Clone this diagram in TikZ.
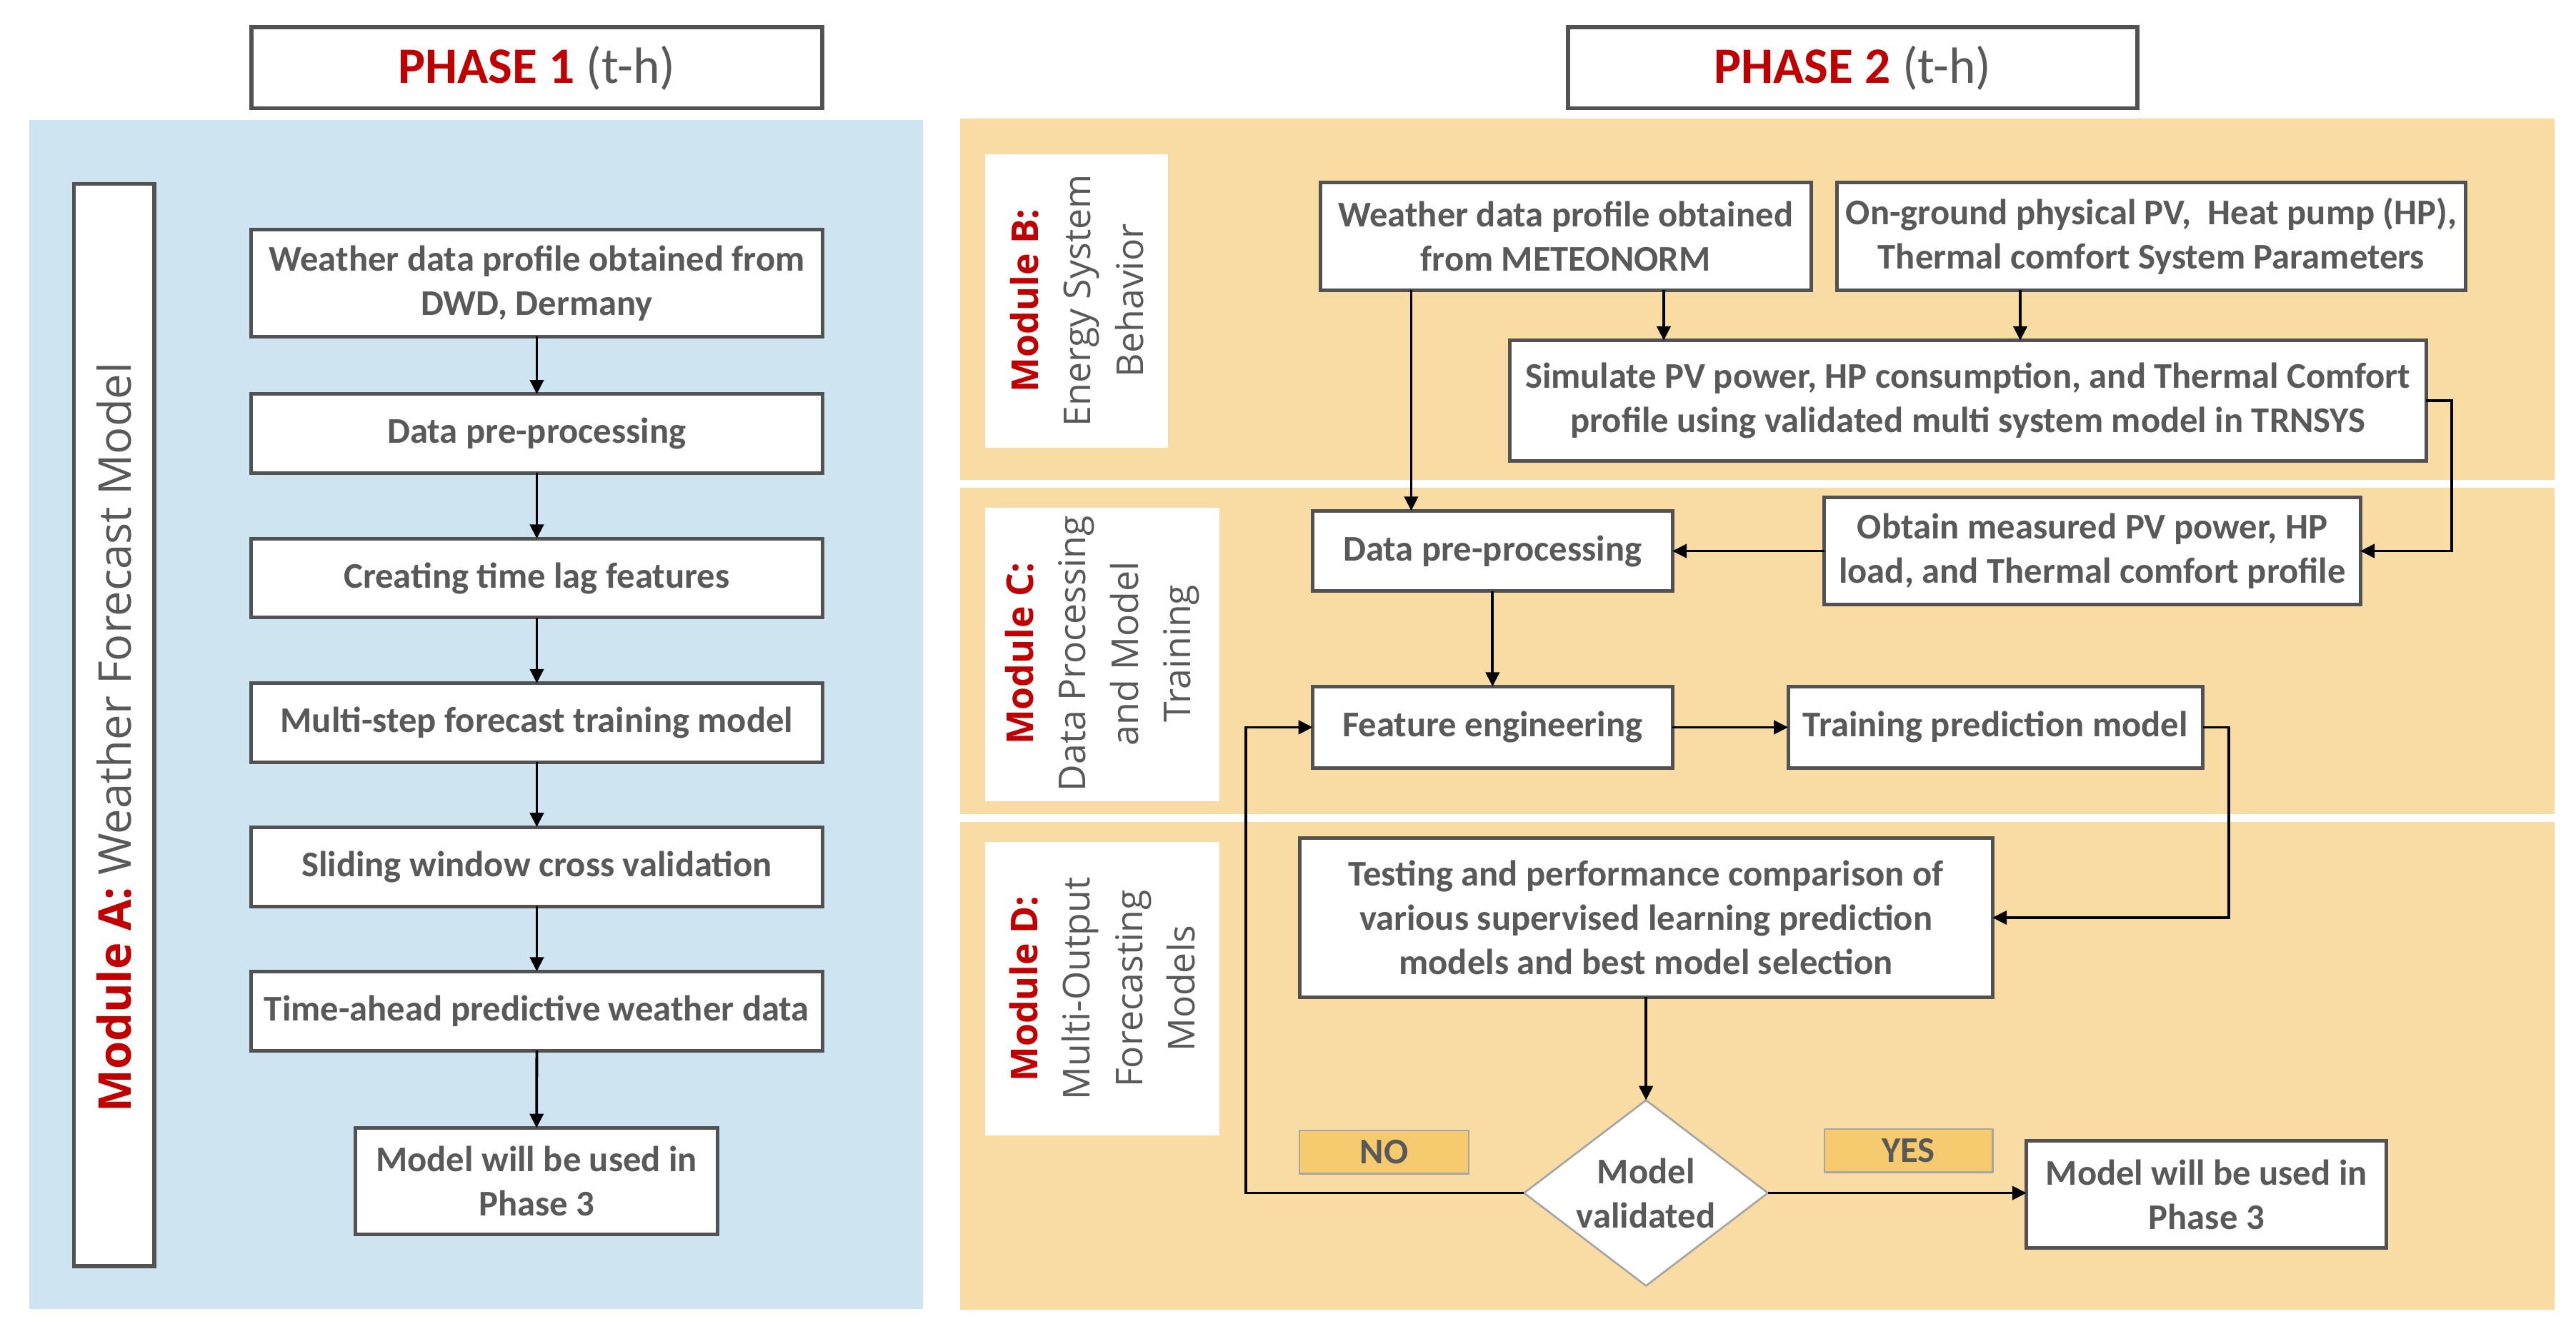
\documentclass[tikz,border=0pt]{standalone}
\usepackage{fontspec}
\setmainfont{Carlito}
\newfontfamily\osans{Open Sans}
\usetikzlibrary{arrows.meta,shapes.geometric}
\definecolor{tx}{HTML}{595959}
\definecolor{dred}{HTML}{C00000}
\definecolor{bluebg}{HTML}{CFE4F1}
\definecolor{tanbg}{HTML}{F9DCA3}
\definecolor{gold}{HTML}{F6CA6E}
\definecolor{bd}{HTML}{525252}
\definecolor{lg}{HTML}{A6A6A6}
\tikzset{
 box/.style={draw=bd, line width=0.65mm, fill=white, inner sep=0pt, outer sep=0pt, align=center, text=tx, font=\fontsize{18.8}{23}\selectfont\bfseries},
 phasebox/.style={draw=bd, line width=0.7mm, fill=white, inner sep=0pt, outer sep=0pt, text=tx, font=\fontsize{26.5}{30}\selectfont},
 modbox/.style={draw=bd, line width=0.7mm, fill=white, inner sep=0pt, outer sep=0pt},
 lab/.style={fill=white, draw=none, inner sep=0pt, outer sep=0pt},
 tag/.style={fill=gold, draw=lg, line width=0.35mm, inner sep=0pt, outer sep=0pt, text=tx, font=\fontsize{18.8}{23}\selectfont\bfseries},
 arr/.style={draw=black, line width=0.5mm, -{Triangle[length=2.6mm,width=2.5mm]}},
 modtext/.style={rotate=90, align=center, text=tx, font=\osans\fontsize{19.2}{27.3}\selectfont, inner sep=0pt},
}
\newcommand\bx[7][box]{\node[#1,minimum width={(#5-#3)*0.3mm},minimum height={(#6-#4)*0.3mm}] (#2) at ({(#3+#5)/2},{(#4+#6)/2}) {#7};}
\begin{document}
\begin{tikzpicture}[x=0.3mm,y=-0.3mm]
\useasboundingbox (0,0) rectangle (1568,809);
\fill[white] (0,0) rectangle (1568,809);
% panels
\fill[bluebg] (18,73) rectangle (562,797);
\fill[tanbg] (584.6,72.4) rectangle (1555,292);
\fill[tanbg] (584.6,297) rectangle (1555,495.5);
\fill[tanbg] (584.6,500.5) rectangle (1555,797.3);
% phase headers
\bx[phasebox]{ph1}{153}{16.5}{500.5}{66}{{\color{dred}\bfseries PHASE 1} (t-h)}
\bx[phasebox]{ph2}{954.5}{16.5}{1301}{66}{{\color{dred}\bfseries PHASE 2} (t-h)}
% module A
\bx[modbox]{modA}{45}{112}{94}{771}{}
\node[rotate=90, text=tx, font=\osans\fontsize{23.5}{28}\selectfont, inner sep=0pt] (modAt) at (69.5,449) {{\bfseries\color{dred}Module A:} Weather Forecast Model};
% left flow
\bx{a1}{153}{140}{500.5}{205}{Weather data profile obtained from\\DWD, Dermany}
\bx{a2}{153}{240}{500.5}{288}{Data pre-processing}
\bx{a3}{153}{328}{500.5}{376}{Creating time lag features}
\bx{a4}{153}{416}{500.5}{464}{Multi-step forecast training model}
\bx{a5}{153}{503.6}{500.5}{552}{Sliding window cross validation}
\bx{a6}{153}{591.5}{500.5}{639.7}{Time-ahead predictive weather data}
\bx{a7}{216.5}{686.8}{436.7}{751.5}{Model will be used in\\Phase 3}
\foreach \i/\j in {a1/a2,a2/a3,a3/a4,a4/a5,a5/a6,a6/a7} \draw[arr] (\i.south) -- (\j.north);
% module labels right
\bx[lab]{labB}{599.8}{94}{710.9}{272.7}{}
\node[modtext] (txtB) at (655.5,183) {{\bfseries\color{dred}Module B:}\\Energy System\\Behavior};
\bx[lab]{labC}{599.8}{309.3}{742.4}{487.8}{}
\node[modtext] (txtC) at (671,398) {{\bfseries\color{dred}Module C:}\\Data Processing\\and Model\\Training};
\bx[lab]{labD}{599.8}{512.7}{742.4}{691.4}{}
\node[modtext] (txtD) at (671,602) {{\bfseries\color{dred}Module D:}\\Multi-Output\\Forecasting\\Models};
% right flow
\bx{wm}{803.6}{111}{1102.3}{176.6}{Weather data profile obtained\\from METEONORM}
\bx{og}{1118}{111}{1501}{176.6}{On-ground physical PV,\ \ Heat pump (HP),\\Thermal comfort System Parameters}
\bx{sim}{919}{207.3}{1476.7}{280.5}{Simulate PV power, HP consumption, and Thermal Comfort\\profile using validated multi system model in TRNSYS}
\bx{dp}{799}{311}{1018}{360}{Data pre-processing}
\bx{ob}{1110.5}{303}{1436.7}{368}{Obtain measured PV power, HP\\load, and Thermal comfort profile}
\bx{fe}{799}{418}{1018}{467.7}{Feature engineering}
\bx{tr}{1088.4}{418}{1340.8}{467.7}{Training prediction model}
\bx{te}{791}{510.3}{1212.8}{607.2}{Testing and performance comparison of\\various supervised learning prediction\\models and best model selection}
\node[diamond, draw=lg, line width=0.35mm, fill=white, minimum width={148.4*0.3mm}, minimum height={113*0.3mm}, inner sep=0pt, outer sep=0pt, aspect=1.313,
  label={[name=dtx, align=center, text=tx, inner sep=0pt, font=\fontsize{18.8}{23}\selectfont\bfseries]center:Model\\validated}] (dia) at (1001.9,726.4) {};
\bx{mu}{1233.5}{694.6}{1452.6}{759.9}{Model will be used in\\Phase 3}
\bx[tag]{no}{791}{688.4}{894}{714.7}{NO}
\bx[tag]{yes}{1110.5}{687.4}{1212.8}{713.7}{YES}
% connectors
\coordinate (c1) at (1012.7,0);
\coordinate (c2) at (1229.7,0);
\coordinate (c3) at (859,0);
\coordinate (c4) at (1492.4,0);
\coordinate (c5) at (1356.7,0);
\coordinate (c6) at (758.2,0);
\draw[arr] (c1 |- wm.south) -- (c1 |- sim.north);
\draw[arr] (c2 |- og.south) -- (c2 |- sim.north);
\draw[arr] (c3 |- wm.south) -- (c3 |- dp.north);
\draw[arr] (sim.east) -- (c4 |- sim.east) -- (c4 |- ob.east) -- (ob.east);
\draw[arr] (ob.west) -- (dp.east);
\draw[arr] (dp.south) -- (fe.north);
\draw[arr] (fe.east) -- (tr.west);
\draw[arr] (tr.east) -- (c5 |- tr.east) -- (c5 |- te.east) -- (te.east);
\draw[arr] (te.south) -- (dia.north);
\draw[arr] (dia.west) -- (c6 |- dia.west) -- (c6 |- fe.west) -- (fe.west);
\draw[arr] (dia.east) -- (mu.west |- dia.east);
\end{tikzpicture}
\end{document}
